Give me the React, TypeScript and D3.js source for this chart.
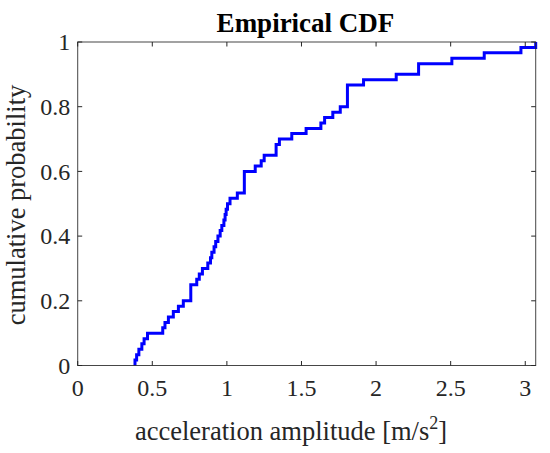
import * as d3 from "d3";

const WIDTH = 550;
const HEIGHT = 453;
const MARGIN = { top: 42, right: 14.3, bottom: 87.5, left: 77.7 };

// step locations (acceleration amplitude) and cumulative probability after each step
const stepX = [
  0.384, 0.395, 0.41, 0.43, 0.445, 0.468, 0.57, 0.585, 0.608, 0.641, 0.675,
  0.708, 0.758, 0.798, 0.815, 0.836, 0.872, 0.89, 0.899, 0.914, 0.925, 0.94,
  0.955, 0.966, 0.98, 0.988, 0.995, 1.004, 1.021, 1.07, 1.117, 1.19, 1.23,
  1.25, 1.33, 1.352, 1.435, 1.531, 1.63, 1.655, 1.71, 1.76, 1.808, 1.916,
  2.135, 2.285, 2.508, 2.725, 2.971, 3.07,
];
const stepP = [
  0.017, 0.033, 0.05, 0.067, 0.083, 0.1, 0.117, 0.133, 0.15, 0.167, 0.183,
  0.2, 0.25, 0.267, 0.283, 0.3, 0.317, 0.333, 0.35, 0.367, 0.383, 0.4, 0.417,
  0.433, 0.45, 0.467, 0.483, 0.5, 0.517, 0.533, 0.6, 0.617, 0.633, 0.65,
  0.683, 0.7, 0.717, 0.733, 0.75, 0.767, 0.783, 0.8, 0.867, 0.883, 0.9, 0.933,
  0.95, 0.967, 0.983, 1.0,
];

const xTicks = [0, 0.5, 1, 1.5, 2, 2.5, 3];
const xTickLabels = ["0", "0.5", "1", "1.5", "2", "2.5", "3"];
const yTicks = [0, 0.2, 0.4, 0.6, 0.8, 1];
const yTickLabels = ["0", "0.2", "0.4", "0.6", "0.8", "1"];

const AXIS_COLOR = "#262626";
const FONT = "'Liberation Serif', 'Times New Roman', serif";

export default function App() {
  const boundsWidth = WIDTH - MARGIN.left - MARGIN.right;
  const boundsHeight = HEIGHT - MARGIN.top - MARGIN.bottom;

  const xScale = d3.scaleLinear().domain([0, 3.07]).range([0, boundsWidth]);
  const yScale = d3.scaleLinear().domain([0, 1]).range([boundsHeight, 0]);

  const points: [number, number][] = [[stepX[0], 0]];
  stepX.forEach((x, i) => points.push([x, stepP[i]]));

  const lineBuilder = d3
    .line<[number, number]>()
    .x((d) => xScale(d[0]))
    .y((d) => yScale(d[1]))
    .curve(d3.curveStepAfter);
  const linePath = lineBuilder(points) || "";

  const tickLen = 4.5;
  const textStyle = { fontFamily: FONT };

  return (
    <svg
      width={WIDTH}
      height={HEIGHT}
      style={{ position: "absolute", left: 0, top: 0, background: "#fff" }}
    >
      <rect width={WIDTH} height={HEIGHT} fill="#fff" />
      <g transform={`translate(${MARGIN.left},${MARGIN.top})`}>
        <path
          d={linePath}
          fill="none"
          stroke="#0000ff"
          strokeWidth={3}
          strokeLinejoin="miter"
        />

        {/* box */}
        <rect
          x={0}
          y={0}
          width={boundsWidth}
          height={boundsHeight}
          fill="none"
          stroke={AXIS_COLOR}
          strokeOpacity={0.85}
          strokeWidth={1}
        />

        {/* x ticks */}
        {xTicks.map((t, i) => (
          <g key={"x" + t} transform={`translate(${xScale(t)},0)`}>
            <line y1={boundsHeight} y2={boundsHeight - tickLen} stroke={AXIS_COLOR} />
            <line y1={0} y2={tickLen} stroke={AXIS_COLOR} />
            <text
              y={boundsHeight + 30}
              textAnchor="middle"
              fontSize={24}
              fill={AXIS_COLOR}
              style={textStyle}
            >
              {xTickLabels[i]}
            </text>
          </g>
        ))}

        {/* y ticks */}
        {yTicks.map((t, i) => (
          <g key={"y" + t} transform={`translate(0,${yScale(t)})`}>
            <line x1={0} x2={tickLen} stroke={AXIS_COLOR} />
            <line x1={boundsWidth} x2={boundsWidth - tickLen} stroke={AXIS_COLOR} />
            <text
              x={-7.5}
              dy="0.34em"
              textAnchor="end"
              fontSize={24}
              fill={AXIS_COLOR}
              style={textStyle}
            >
              {yTickLabels[i]}
            </text>
          </g>
        ))}

        {/* axis labels */}
        <text
          x={291 - MARGIN.left}
          y={boundsHeight + 74}
          textAnchor="middle"
          fontSize={26.5}
          fill={AXIS_COLOR}
          style={textStyle}
        >
          acceleration amplitude [m/s
          <tspan dy={-11} fontSize={18}>
            2
          </tspan>
          <tspan dy={11}>]</tspan>
        </text>
        <text
          transform={`translate(${-53},${205 - MARGIN.top}) rotate(-90)`}
          textAnchor="middle"
          fontSize={26.5}
          fill={AXIS_COLOR}
          style={textStyle}
        >
          cumulative probability
        </text>

        {/* title */}
        <text
          x={305.5 - MARGIN.left}
          y={-10}
          textAnchor="middle"
          fontSize={27}
          fontWeight="bold"
          fill="#000"
          style={textStyle}
        >
          Empirical CDF
        </text>
      </g>
    </svg>
  );
}
